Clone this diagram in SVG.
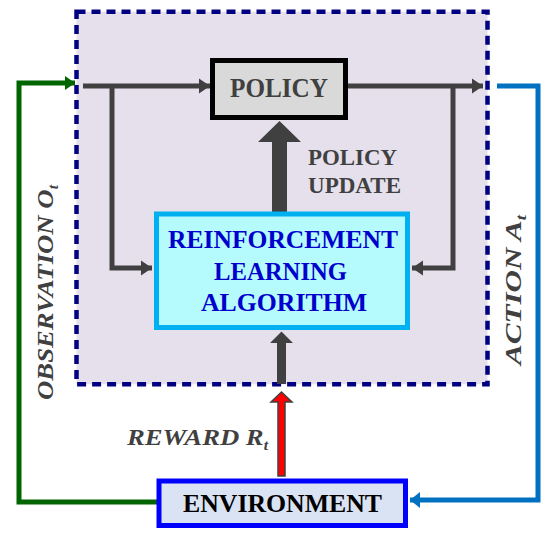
<svg xmlns="http://www.w3.org/2000/svg" width="550" height="538" viewBox="0 0 550 538">
<style>
.lbl{font-family:"Liberation Serif","Times New Roman",serif;font-weight:bold}
.gray{fill:#404040}
.it{font-style:italic}
.ln{fill:none;stroke:#404040;stroke-width:5}
</style>
<defs>
<marker id="ahg" markerUnits="userSpaceOnUse" markerWidth="12" markerHeight="16" refX="11" refY="8" orient="auto">
<path d="M0,0.5 L11,8 L0,15.5 Z" fill="#404040"/>
</marker>
<marker id="ahgreen" markerUnits="userSpaceOnUse" markerWidth="12" markerHeight="16" refX="10" refY="8" orient="auto">
<path d="M0,1 L10,8 L0,15 Z" fill="#006400"/>
</marker>
<marker id="ahblue" markerUnits="userSpaceOnUse" markerWidth="12" markerHeight="18" refX="10" refY="9" orient="auto">
<path d="M0,1 L10,9 L0,17 Z" fill="#0070C0"/>
</marker>
</defs>
<rect width="550" height="538" fill="#ffffff"/>
<g id="agent">
<rect x="76.5" y="11.7" width="411" height="372.6" fill="#E5E0EC" stroke="#000080" stroke-width="4.5" stroke-dasharray="9 6"/>
</g>
<g id="connectors">
<path class="ln" d="M83,86 H210" marker-end="url(#ahg)"/>
<path class="ln" d="M112,86 V268 H152" marker-end="url(#ahg)"/>
<path class="ln" d="M347,86 H483" marker-end="url(#ahg)"/>
<path class="ln" d="M453,86 V268 H412" marker-end="url(#ahg)"/>
<polygon points="272,212 272,142 258,142 279.5,121 301,142 287,142 287,212" fill="#404040"/>
<polygon points="277,384 277,343 270,343 281.5,331.5 293,343 286,343 286,384" fill="#404040"/>
<polygon points="278,476 278,402 271,402 281.5,392 292,402 285,402 285,476" fill="#FF0000" stroke="#404040" stroke-width="1.5" stroke-linejoin="miter"/>
<path d="M157,502 H19 V83 H75" fill="none" stroke="#006400" stroke-width="5" marker-end="url(#ahgreen)"/>
<path d="M497,86 H538 V500 H410" fill="none" stroke="#0070C0" stroke-width="5" marker-end="url(#ahblue)"/>
</g>
<g id="policy">
<rect x="212.5" y="60.5" width="133" height="57" fill="#D9D9D9" stroke="#000000" stroke-width="5"/>
<text class="lbl gray" x="230" y="97" font-size="27" textLength="98" lengthAdjust="spacingAndGlyphs">POLICY</text>
</g>
<g id="policy-update">
<text class="lbl gray" x="308" y="165" font-size="23" textLength="89" lengthAdjust="spacingAndGlyphs">POLICY</text>
<text class="lbl gray" x="308" y="193" font-size="23" textLength="93" lengthAdjust="spacingAndGlyphs">UPDATE</text>
</g>
<g id="rl">
<rect x="156.5" y="214" width="251" height="113.5" fill="#B5FBFE" stroke="#00B0F0" stroke-width="5"/>
<text class="lbl" fill="#0000CC" font-size="26" x="168" y="248" textLength="230" lengthAdjust="spacingAndGlyphs">REINFORCEMENT</text>
<text class="lbl" fill="#0000CC" font-size="26" x="214" y="280" textLength="133" lengthAdjust="spacingAndGlyphs">LEARNING</text>
<text class="lbl" fill="#0000CC" font-size="26" x="201" y="311" textLength="166" lengthAdjust="spacingAndGlyphs">ALGORITHM</text>
</g>
<g id="environment">
<rect x="159" y="481" width="246.5" height="44.5" fill="#DAE3F3" stroke="#0000FF" stroke-width="5"/>
<text class="lbl" fill="#000000" font-size="26" x="183" y="512" textLength="199" lengthAdjust="spacingAndGlyphs">ENVIRONMENT</text>
</g>
<g id="labels">
<text class="lbl gray it" font-size="24" x="127" y="445" textLength="141" lengthAdjust="spacingAndGlyphs">REWARD R<tspan font-size="14" dy="5">t</tspan></text>
<text class="lbl gray it" font-size="24" transform="translate(53,400) rotate(-90)" textLength="215" lengthAdjust="spacingAndGlyphs">OBSERVATION O<tspan font-size="14" dy="5">t</tspan></text>
<text class="lbl gray it" font-size="23" transform="translate(521,365) rotate(-90)" textLength="150" lengthAdjust="spacingAndGlyphs">ACTION A<tspan font-size="14" dy="5">t</tspan></text>
</g>
</svg>
